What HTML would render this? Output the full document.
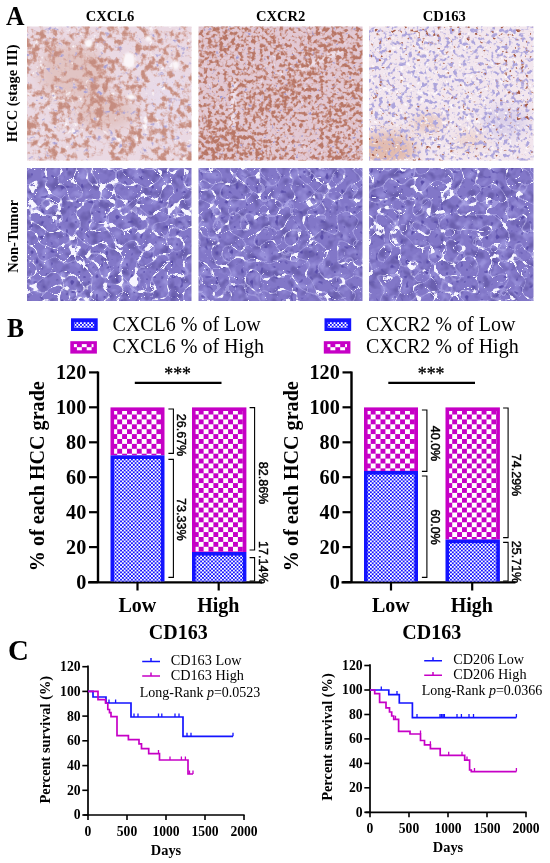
<!DOCTYPE html>
<html><head><meta charset="utf-8"><title>Figure</title>
<style>html,body{margin:0;padding:0;background:#fff}svg{display:block}text{font-family:"Liberation Serif","Times New Roman",serif;fill:#000}.b{font-weight:bold}.s{font-family:"Liberation Sans",Arial,sans-serif}</style></head><body>
<svg width="550" height="863" viewBox="0 0 550 863">
<defs>
<pattern id="cm" width="9.8" height="9.8" patternUnits="userSpaceOnUse"><rect width="9.8" height="9.8" fill="#fff"/><rect width="4.9" height="4.9" fill="#c600c6"/><rect x="4.9" y="4.9" width="4.9" height="4.9" fill="#c600c6"/></pattern>
<pattern id="cb" width="3.64" height="3.64" patternUnits="userSpaceOnUse" shape-rendering="crispEdges"><rect width="3.64" height="3.64" fill="#fff"/><rect width="1.94" height="1.94" fill="#1414ff"/><rect x="1.82" y="1.82" width="1.94" height="1.94" fill="#1414ff"/></pattern>
<filter id="h1" x="0" y="0" width="100%" height="100%" color-interpolation-filters="sRGB"><feTurbulence type="fractalNoise" baseFrequency="0.155" numOctaves="3" seed="3"/><feColorMatrix type="matrix" values="1 0 0 0 0  0 1 0 0 0  0 0 1 0 0  0 0 0 0 1" result="n"/><feTurbulence type="fractalNoise" baseFrequency="0.035" numOctaves="2" seed="10"/><feColorMatrix type="matrix" values="1 0 0 0 0  0 1 0 0 0  0 0 1 0 0  0 0 0 0 1" result="lo"/><feComposite in="n" in2="lo" operator="arithmetic" k1="0" k2="1" k3="0.4" k4="-0.2" result="m"/><feColorMatrix in="m" type="matrix" values="0 0 0 0 0.839  0 0 0 0 0.659  0 0 0 0 0.627  3.5 0 0 0 -1.505" result="br"/><feColorMatrix in="m" type="matrix" values="0 0 0 0 0.773  0 0 0 0 0.549  0 0 0 0 0.498  4 0 0 0 -2.080" result="br2"/><feColorMatrix in="n" type="matrix" values="0 0 0 0 0.667  0 0 0 0 0.635  0 0 0 0 0.839  0 6 0 0 -3.930" result="bl"/><feColorMatrix in="m" type="matrix" values="0 0 0 0 0.984  0 0 0 0 0.961  0 0 0 0 0.973  0 0 6 0 -4.080" result="wh"/><feMerge><feMergeNode in="wh"/><feMergeNode in="bl"/><feMergeNode in="br"/><feMergeNode in="br2"/></feMerge><feGaussianBlur stdDeviation="0.6"/></filter>
<filter id="h2" x="0" y="0" width="100%" height="100%" color-interpolation-filters="sRGB"><feTurbulence type="fractalNoise" baseFrequency="0.25" numOctaves="2" seed="11"/><feColorMatrix type="matrix" values="1 0 0 0 0  0 1 0 0 0  0 0 1 0 0  0 0 0 0 1" result="n"/><feTurbulence type="fractalNoise" baseFrequency="0.025" numOctaves="2" seed="18"/><feColorMatrix type="matrix" values="1 0 0 0 0  0 1 0 0 0  0 0 1 0 0  0 0 0 0 1" result="lo"/><feComposite in="n" in2="lo" operator="arithmetic" k1="0" k2="1" k3="0.3" k4="-0.15" result="m"/><feColorMatrix in="m" type="matrix" values="0 0 0 0 0.812  0 0 0 0 0.612  0 0 0 0 0.573  4 0 0 0 -1.680" result="br"/><feColorMatrix in="m" type="matrix" values="0 0 0 0 0.722  0 0 0 0 0.463  0 0 0 0 0.400  5 0 0 0 -2.500" result="br2"/><feColorMatrix in="n" type="matrix" values="0 0 0 0 0.635  0 0 0 0 0.604  0 0 0 0 0.824  0 7 0 0 -4.690" result="bl"/><feColorMatrix in="m" type="matrix" values="0 0 0 0 0.937  0 0 0 0 0.894  0 0 0 0 0.941  0 0 6 0 -4.200" result="wh"/><feMerge><feMergeNode in="wh"/><feMergeNode in="bl"/><feMergeNode in="br"/><feMergeNode in="br2"/></feMerge><feGaussianBlur stdDeviation="0.6"/></filter>
<filter id="h3" x="0" y="0" width="100%" height="100%" color-interpolation-filters="sRGB"><feTurbulence type="fractalNoise" baseFrequency="0.24" numOctaves="2" seed="23"/><feColorMatrix type="matrix" values="1 0 0 0 0  0 1 0 0 0  0 0 1 0 0  0 0 0 0 1" result="n"/><feTurbulence type="fractalNoise" baseFrequency="0.02" numOctaves="2" seed="30"/><feColorMatrix type="matrix" values="1 0 0 0 0  0 1 0 0 0  0 0 1 0 0  0 0 0 0 1" result="lo"/><feComposite in="n" in2="lo" operator="arithmetic" k1="0" k2="1" k3="0.25" k4="-0.125" result="m"/><feColorMatrix in="m" type="matrix" values="0 0 0 0 0.831  0 0 0 0 0.655  0 0 0 0 0.612  5 0 0 0 -3.300" result="br"/><feColorMatrix in="m" type="matrix" values="0 0 0 0 0.639  0 0 0 0 0.353  0 0 0 0 0.282  8 0 0 0 -5.680" result="br2"/><feColorMatrix in="n" type="matrix" values="0 0 0 0 0.675  0 0 0 0 0.643  0 0 0 0 0.863  0 6 0 0 -3.150" result="bl"/><feColorMatrix in="m" type="matrix" values="0 0 0 0 0.992  0 0 0 0 0.973  0 0 0 0 0.984  0 0 6 0 -3.720" result="wh"/><feMerge><feMergeNode in="wh"/><feMergeNode in="bl"/><feMergeNode in="br"/><feMergeNode in="br2"/></feMerge><feGaussianBlur stdDeviation="0.6"/></filter>
<filter id="n1" x="0" y="0" width="100%" height="100%" color-interpolation-filters="sRGB"><feTurbulence type="turbulence" baseFrequency="0.065" numOctaves="1" seed="5"/><feColorMatrix type="matrix" values="1 0 0 0 0  0 1 0 0 0  0 0 1 0 0  0 0 0 0 1" result="t"/><feTurbulence type="fractalNoise" baseFrequency="0.10" numOctaves="2" seed="10"/><feColorMatrix type="matrix" values="1 0 0 0 0  0 1 0 0 0  0 0 1 0 0  0 0 0 0 1" result="n"/><feTurbulence type="fractalNoise" baseFrequency="0.13" numOctaves="2" seed="14"/><feColorMatrix type="matrix" values="1 0 0 0 0  0 1 0 0 0  0 0 1 0 0  0 0 0 0 1" result="w"/><feTurbulence type="fractalNoise" baseFrequency="0.2" numOctaves="1" seed="18"/><feColorMatrix type="matrix" values="1 0 0 0 0  0 1 0 0 0  0 0 1 0 0  0 0 0 0 1" result="hf"/><feColorMatrix in="t" type="matrix" values="-5 0 0 0 1  0 0 0 0 0  0 0 0 0 0  0 0 0 0 1" result="ti"/><feComposite in="ti" in2="w" operator="arithmetic" k1="0" k2="0.5" k3="1.3" k4="-0.65" result="cw"/><feColorMatrix in="cw" type="matrix" values="0 0 0 0 0.965  0 0 0 0 0.961  0 0 0 0 1.000  9 0 0 0 -4.140" result="wb"/><feColorMatrix in="t" type="matrix" values="0 0 0 0 0.74  0 0 0 0 0.72  0 0 0 0 0.94  -8 0 0 0 0.5" result="cr"/><feColorMatrix in="n" type="matrix" values="0 0 0 0 0.416  0 0 0 0 0.373  0 0 0 0 0.682  0 4 0 0 -2.000" result="dk"/><feColorMatrix in="n" type="matrix" values="0 0 0 0 0.596  0 0 0 0 0.565  0 0 0 0 0.855  0 0 4 0 -2.080" result="lt"/><feColorMatrix in="hf" type="matrix" values="0 0 0 0 0.353  0 0 0 0 0.306  0 0 0 0 0.667  8 0 0 0 -5.120" result="nu"/><feFlood flood-color="#8277c8" result="bg"/><feMerge><feMergeNode in="bg"/><feMergeNode in="lt"/><feMergeNode in="dk"/><feMergeNode in="nu"/><feMergeNode in="cr"/><feMergeNode in="wb"/></feMerge><feGaussianBlur stdDeviation="0.75"/></filter>
<filter id="n2" x="0" y="0" width="100%" height="100%" color-interpolation-filters="sRGB"><feTurbulence type="turbulence" baseFrequency="0.065" numOctaves="1" seed="17"/><feColorMatrix type="matrix" values="1 0 0 0 0  0 1 0 0 0  0 0 1 0 0  0 0 0 0 1" result="t"/><feTurbulence type="fractalNoise" baseFrequency="0.10" numOctaves="2" seed="22"/><feColorMatrix type="matrix" values="1 0 0 0 0  0 1 0 0 0  0 0 1 0 0  0 0 0 0 1" result="n"/><feTurbulence type="fractalNoise" baseFrequency="0.13" numOctaves="2" seed="26"/><feColorMatrix type="matrix" values="1 0 0 0 0  0 1 0 0 0  0 0 1 0 0  0 0 0 0 1" result="w"/><feTurbulence type="fractalNoise" baseFrequency="0.2" numOctaves="1" seed="30"/><feColorMatrix type="matrix" values="1 0 0 0 0  0 1 0 0 0  0 0 1 0 0  0 0 0 0 1" result="hf"/><feColorMatrix in="t" type="matrix" values="-5 0 0 0 1  0 0 0 0 0  0 0 0 0 0  0 0 0 0 1" result="ti"/><feComposite in="ti" in2="w" operator="arithmetic" k1="0" k2="0.5" k3="1.3" k4="-0.65" result="cw"/><feColorMatrix in="cw" type="matrix" values="0 0 0 0 0.965  0 0 0 0 0.961  0 0 0 0 1.000  9 0 0 0 -4.770" result="wb"/><feColorMatrix in="t" type="matrix" values="0 0 0 0 0.74  0 0 0 0 0.72  0 0 0 0 0.94  -8 0 0 0 0.5" result="cr"/><feColorMatrix in="n" type="matrix" values="0 0 0 0 0.416  0 0 0 0 0.373  0 0 0 0 0.682  0 4 0 0 -2.000" result="dk"/><feColorMatrix in="n" type="matrix" values="0 0 0 0 0.596  0 0 0 0 0.565  0 0 0 0 0.855  0 0 4 0 -2.080" result="lt"/><feColorMatrix in="hf" type="matrix" values="0 0 0 0 0.353  0 0 0 0 0.306  0 0 0 0 0.667  8 0 0 0 -5.120" result="nu"/><feFlood flood-color="#8277c8" result="bg"/><feMerge><feMergeNode in="bg"/><feMergeNode in="lt"/><feMergeNode in="dk"/><feMergeNode in="nu"/><feMergeNode in="cr"/><feMergeNode in="wb"/></feMerge><feGaussianBlur stdDeviation="0.75"/></filter>
<filter id="n3" x="0" y="0" width="100%" height="100%" color-interpolation-filters="sRGB"><feTurbulence type="turbulence" baseFrequency="0.065" numOctaves="1" seed="31"/><feColorMatrix type="matrix" values="1 0 0 0 0  0 1 0 0 0  0 0 1 0 0  0 0 0 0 1" result="t"/><feTurbulence type="fractalNoise" baseFrequency="0.10" numOctaves="2" seed="36"/><feColorMatrix type="matrix" values="1 0 0 0 0  0 1 0 0 0  0 0 1 0 0  0 0 0 0 1" result="n"/><feTurbulence type="fractalNoise" baseFrequency="0.13" numOctaves="2" seed="40"/><feColorMatrix type="matrix" values="1 0 0 0 0  0 1 0 0 0  0 0 1 0 0  0 0 0 0 1" result="w"/><feTurbulence type="fractalNoise" baseFrequency="0.2" numOctaves="1" seed="44"/><feColorMatrix type="matrix" values="1 0 0 0 0  0 1 0 0 0  0 0 1 0 0  0 0 0 0 1" result="hf"/><feColorMatrix in="t" type="matrix" values="-5 0 0 0 1  0 0 0 0 0  0 0 0 0 0  0 0 0 0 1" result="ti"/><feComposite in="ti" in2="w" operator="arithmetic" k1="0" k2="0.5" k3="1.3" k4="-0.65" result="cw"/><feColorMatrix in="cw" type="matrix" values="0 0 0 0 0.965  0 0 0 0 0.961  0 0 0 0 1.000  9 0 0 0 -4.500" result="wb"/><feColorMatrix in="t" type="matrix" values="0 0 0 0 0.74  0 0 0 0 0.72  0 0 0 0 0.94  -8 0 0 0 0.5" result="cr"/><feColorMatrix in="n" type="matrix" values="0 0 0 0 0.416  0 0 0 0 0.373  0 0 0 0 0.682  0 4 0 0 -2.000" result="dk"/><feColorMatrix in="n" type="matrix" values="0 0 0 0 0.596  0 0 0 0 0.565  0 0 0 0 0.855  0 0 4 0 -2.080" result="lt"/><feColorMatrix in="hf" type="matrix" values="0 0 0 0 0.353  0 0 0 0 0.306  0 0 0 0 0.667  8 0 0 0 -5.120" result="nu"/><feFlood flood-color="#8277c8" result="bg"/><feMerge><feMergeNode in="bg"/><feMergeNode in="lt"/><feMergeNode in="dk"/><feMergeNode in="nu"/><feMergeNode in="cr"/><feMergeNode in="wb"/></feMerge><feGaussianBlur stdDeviation="0.75"/></filter>
<filter id="bl2" x="-30%" y="-30%" width="160%" height="160%"><feGaussianBlur stdDeviation="1.2"/></filter>
<filter id="bl6" x="-50%" y="-50%" width="200%" height="200%"><feGaussianBlur stdDeviation="6"/></filter>
<clipPath id="cp3"><rect x="369" y="26.5" width="164.5" height="134"/></clipPath>
<clipPath id="cp2"><rect x="198.5" y="26.5" width="164" height="134"/></clipPath>
<clipPath id="ch0"><rect x="27" y="26.5" width="164.5" height="134.0"/></clipPath>
<clipPath id="cn0"><rect x="27" y="168" width="164.5" height="133"/></clipPath>
<clipPath id="ch1"><rect x="198.5" y="26.5" width="164.0" height="134.0"/></clipPath>
<clipPath id="cn1"><rect x="198.5" y="168" width="164.0" height="133"/></clipPath>
<clipPath id="ch2"><rect x="369" y="26.5" width="164.5" height="134.0"/></clipPath>
<clipPath id="cn2"><rect x="369" y="168" width="164.5" height="133"/></clipPath>
</defs>
<rect width="550" height="863" fill="#fff"/>
<rect x="27" y="26.5" width="164.5" height="134.0" fill="#ead9e3"/>
<g clip-path="url(#ch0)"><g filter="url(#bl6)" fill-opacity="0.6"><ellipse cx="72" cy="72" rx="34" ry="28" fill="#dcb6ae"/><ellipse cx="105" cy="112" rx="30" ry="18" fill="#dcb6ae"/><ellipse cx="166" cy="105" rx="22" ry="34" fill="#e6dcee"/></g></g>
<g clip-path="url(#ch0)"><rect x="23" y="22.5" width="172.5" height="142.0" fill="#ddd" filter="url(#h1)"/></g>
<g filter="url(#bl2)" fill="#fbf6f9"><ellipse cx="88.5" cy="43.5" rx="4" ry="4.5"/><ellipse cx="129" cy="60.5" rx="6.5" ry="8"/><ellipse cx="148.5" cy="38.5" rx="3.2" ry="3"/><ellipse cx="175.5" cy="65" rx="3.5" ry="4.5"/><ellipse cx="131" cy="97" rx="4" ry="3"/></g>
<g clip-path="url(#cn0)"><rect x="23" y="164" width="172.5" height="141" fill="#88c" filter="url(#n1)"/></g>
<rect x="198.5" y="26.5" width="164.0" height="134.0" fill="#e2c8d3"/>
<g clip-path="url(#cp2)"><g filter="url(#bl2)" stroke="#f0e2ec" stroke-width="5" fill="none"><path d="M297 70L343 50"/><path d="M235 80L232 126"/></g></g>
<g clip-path="url(#ch1)"><rect x="194.5" y="22.5" width="172.0" height="142.0" fill="#ddd" filter="url(#h2)"/></g>
<g clip-path="url(#cn1)"><rect x="194.5" y="164" width="172.0" height="141" fill="#88c" filter="url(#n2)"/></g>
<rect x="369" y="26.5" width="164.5" height="134.0" fill="#f2e6ee"/>
<g clip-path="url(#cp3)"><g filter="url(#bl6)"><ellipse cx="386" cy="150" rx="30" ry="18" fill="#e2bcb0"/><ellipse cx="428" cy="123" rx="15" ry="7" fill="#e2bcb0"/><ellipse cx="470" cy="140" rx="14" ry="8" fill="#ecd2cc"/><ellipse cx="505" cy="122" rx="22" ry="16" fill="#dcd2ea"/></g></g>
<g clip-path="url(#ch2)"><rect x="365" y="22.5" width="172.5" height="142.0" fill="#ddd" filter="url(#h3)"/></g>
<g clip-path="url(#cn2)"><rect x="365" y="164" width="172.5" height="141" fill="#88c" filter="url(#n3)"/></g>
<text class="b" x="6" y="25.3" font-size="27.5" textLength="18.5" lengthAdjust="spacingAndGlyphs">A</text>
<text class="b" x="110" y="21.3" font-size="14.6" text-anchor="middle">CXCL6</text>
<text class="b" x="280.7" y="21.3" font-size="14.6" text-anchor="middle">CXCR2</text>
<text class="b" x="444.3" y="21.3" font-size="14.6" text-anchor="middle">CD163</text>
<text class="b" transform="translate(16.9,93.3) rotate(-90)" font-size="14.55" text-anchor="middle">HCC (stage III)</text>
<text class="b" transform="translate(18,236.3) rotate(-90)" font-size="14.5" text-anchor="middle">Non-Tumor</text>
<text class="b" x="7" y="337.2" font-size="27.5" textLength="17" lengthAdjust="spacingAndGlyphs">B</text>
<g transform="translate(0,0)">
<rect x="71" y="318.3" width="26.7" height="12.7" fill="#1414ff"/>
<rect x="74.2" y="322.2" width="20" height="5.8" fill="url(#cb)"/>
<rect x="70.3" y="341.2" width="26.6" height="12.4" fill="#c600c6"/>
<g transform="translate(67.1,342.3)"><rect x="6.8" y="1.8" width="19.6" height="6.2" fill="url(#cm)"/></g>
<text x="112.4" y="331" font-size="20">CXCL6 % of Low</text>
<text x="112.4" y="353" font-size="20">CXCL6 % of High</text>
<path d="M98 371.4V583.6M88 582.4H262" stroke="#000" stroke-width="2.4" fill="none"/>
<path d="M89 372.4H98" stroke="#000" stroke-width="2.2"/>
<text class="b" x="86.3" y="379.1" font-size="20.2" text-anchor="end">120</text>
<path d="M89 407.3H98" stroke="#000" stroke-width="2.2"/>
<text class="b" x="86.3" y="414.0" font-size="20.2" text-anchor="end">100</text>
<path d="M89 442.3H98" stroke="#000" stroke-width="2.2"/>
<text class="b" x="86.3" y="449.0" font-size="20.2" text-anchor="end">80</text>
<path d="M89 477.2H98" stroke="#000" stroke-width="2.2"/>
<text class="b" x="86.3" y="483.9" font-size="20.2" text-anchor="end">60</text>
<path d="M89 512.2H98" stroke="#000" stroke-width="2.2"/>
<text class="b" x="86.3" y="518.9" font-size="20.2" text-anchor="end">40</text>
<path d="M89 547.1H98" stroke="#000" stroke-width="2.2"/>
<text class="b" x="86.3" y="553.9" font-size="20.2" text-anchor="end">20</text>
<path d="M89 582.1H98" stroke="#000" stroke-width="2.2"/>
<text class="b" x="86.3" y="588.8" font-size="20.2" text-anchor="end">0</text>
<path d="M137.5 582V590.5" stroke="#000" stroke-width="2.2"/>
<path d="M218.7 582V590.5" stroke="#000" stroke-width="2.2"/>
<text class="b" transform="translate(44,476.2) rotate(-90)" font-size="20.5" text-anchor="middle" textLength="190" lengthAdjust="spacingAndGlyphs">% of each HCC grade</text>
<rect x="110.5" y="407.4" width="54.0" height="48.0" fill="#c600c6"/>
<g transform="translate(107.40,409.60)"><rect x="6.70" y="1.40" width="46.80" height="44.1" fill="url(#cm)"/></g>
<rect x="110.5" y="455.4" width="54.0" height="126.0" fill="#1414ff"/>
<rect x="114.1" y="459.0" width="46.8" height="122.4" fill="url(#cb)"/>
<rect x="192" y="407.4" width="54.400000000000006" height="144.60000000000002" fill="#c600c6"/>
<g transform="translate(188.90,409.60)"><rect x="6.70" y="1.40" width="47.20" height="140.7" fill="url(#cm)"/></g>
<rect x="192" y="552" width="54.400000000000006" height="29.399999999999977" fill="#1414ff"/>
<rect x="195.6" y="555.6" width="47.2" height="25.8" fill="url(#cb)"/>
<path d="M168.4 409h5V453.4h-5" stroke="#000" stroke-width="1.1" fill="none"/>
<path d="M168.4 459.4h5V577.4h-5" stroke="#000" stroke-width="1.1" fill="none"/>
<path d="M249.6 407.6h5V550h-5" stroke="#000" stroke-width="1.1" fill="none"/>
<path d="M249.6 557.6h5V581h-5" stroke="#000" stroke-width="1.1" fill="none"/>
<text class="s" transform="translate(177.2,435.0) rotate(90)" font-size="12.5" text-anchor="middle" stroke="#000" stroke-width="0.45">26.67%</text>
<text class="s" transform="translate(177.2,519.3) rotate(90)" font-size="12.5" text-anchor="middle" stroke="#000" stroke-width="0.45">73.33%</text>
<text class="s" transform="translate(258.7,483.0) rotate(90)" font-size="12.5" text-anchor="middle" stroke="#000" stroke-width="0.45">82.86%</text>
<text class="s" transform="translate(258.7,562.3) rotate(90)" font-size="12.5" text-anchor="middle" stroke="#000" stroke-width="0.45">17.14%</text>
<path d="M134.8 382.8H221.5" stroke="#000" stroke-width="2.2"/>
<text x="177.6" y="379.5" font-size="17.8" text-anchor="middle" stroke="#000" stroke-width="0.3">***</text>
<text class="b" x="137.3" y="611.5" font-size="20" text-anchor="middle">Low</text>
<text class="b" x="218.3" y="611.5" font-size="20" text-anchor="middle">High</text>
<text class="b" x="178.2" y="639.3" font-size="20" text-anchor="middle">CD163</text>
</g>
<g transform="translate(253.5,0)">
<rect x="71" y="318.3" width="26.7" height="12.7" fill="#1414ff"/>
<rect x="74.2" y="322.2" width="20" height="5.8" fill="url(#cb)"/>
<rect x="70.3" y="341.2" width="26.6" height="12.4" fill="#c600c6"/>
<g transform="translate(67.1,342.3)"><rect x="6.8" y="1.8" width="19.6" height="6.2" fill="url(#cm)"/></g>
<text x="112.4" y="331" font-size="20">CXCR2 % of Low</text>
<text x="112.4" y="353" font-size="20">CXCR2 % of High</text>
<path d="M98 371.4V583.6M88 582.4H262" stroke="#000" stroke-width="2.4" fill="none"/>
<path d="M89 372.4H98" stroke="#000" stroke-width="2.2"/>
<text class="b" x="86.3" y="379.1" font-size="20.2" text-anchor="end">120</text>
<path d="M89 407.3H98" stroke="#000" stroke-width="2.2"/>
<text class="b" x="86.3" y="414.0" font-size="20.2" text-anchor="end">100</text>
<path d="M89 442.3H98" stroke="#000" stroke-width="2.2"/>
<text class="b" x="86.3" y="449.0" font-size="20.2" text-anchor="end">80</text>
<path d="M89 477.2H98" stroke="#000" stroke-width="2.2"/>
<text class="b" x="86.3" y="483.9" font-size="20.2" text-anchor="end">60</text>
<path d="M89 512.2H98" stroke="#000" stroke-width="2.2"/>
<text class="b" x="86.3" y="518.9" font-size="20.2" text-anchor="end">40</text>
<path d="M89 547.1H98" stroke="#000" stroke-width="2.2"/>
<text class="b" x="86.3" y="553.9" font-size="20.2" text-anchor="end">20</text>
<path d="M89 582.1H98" stroke="#000" stroke-width="2.2"/>
<text class="b" x="86.3" y="588.8" font-size="20.2" text-anchor="end">0</text>
<path d="M137.5 582V590.5" stroke="#000" stroke-width="2.2"/>
<path d="M218.7 582V590.5" stroke="#000" stroke-width="2.2"/>
<text class="b" transform="translate(44,476.2) rotate(-90)" font-size="20.5" text-anchor="middle" textLength="190" lengthAdjust="spacingAndGlyphs">% of each HCC grade</text>
<rect x="110.5" y="407.4" width="54.0" height="63.60000000000002" fill="#c600c6"/>
<g transform="translate(107.40,409.60)"><rect x="6.70" y="1.40" width="46.80" height="59.7" fill="url(#cm)"/></g>
<rect x="110.5" y="471" width="54.0" height="110.39999999999998" fill="#1414ff"/>
<rect x="114.1" y="474.6" width="46.8" height="106.8" fill="url(#cb)"/>
<rect x="192" y="407.4" width="54.400000000000006" height="132.20000000000005" fill="#c600c6"/>
<g transform="translate(188.90,409.60)"><rect x="6.70" y="1.40" width="47.20" height="128.3" fill="url(#cm)"/></g>
<rect x="192" y="539.6" width="54.400000000000006" height="41.799999999999955" fill="#1414ff"/>
<rect x="195.6" y="543.2" width="47.2" height="38.2" fill="url(#cb)"/>
<path d="M168.4 410h5V471.4h-5" stroke="#000" stroke-width="1.1" fill="none"/>
<path d="M168.4 476h5V577.4h-5" stroke="#000" stroke-width="1.1" fill="none"/>
<path d="M249.6 408h5V537.6h-5" stroke="#000" stroke-width="1.1" fill="none"/>
<path d="M249.6 542.4h5V581h-5" stroke="#000" stroke-width="1.1" fill="none"/>
<text class="s" transform="translate(177.2,443.5) rotate(90)" font-size="12.5" text-anchor="middle" stroke="#000" stroke-width="0.45">40.0%</text>
<text class="s" transform="translate(177.2,527.0) rotate(90)" font-size="12.5" text-anchor="middle" stroke="#000" stroke-width="0.45">60.0%</text>
<text class="s" transform="translate(258.7,475.0) rotate(90)" font-size="12.5" text-anchor="middle" stroke="#000" stroke-width="0.45">74.29%</text>
<text class="s" transform="translate(258.7,562.0) rotate(90)" font-size="12.5" text-anchor="middle" stroke="#000" stroke-width="0.45">25.71%</text>
<path d="M134.8 382.8H221.5" stroke="#000" stroke-width="2.2"/>
<text x="177.6" y="379.5" font-size="17.8" text-anchor="middle" stroke="#000" stroke-width="0.3">***</text>
<text class="b" x="137.3" y="611.5" font-size="20" text-anchor="middle">Low</text>
<text class="b" x="218.3" y="611.5" font-size="20" text-anchor="middle">High</text>
<text class="b" x="178.2" y="639.3" font-size="20" text-anchor="middle">CD163</text>
</g>
<text class="b" x="7.9" y="659.6" font-size="28.6" textLength="20.8" lengthAdjust="spacingAndGlyphs">C</text>
<g transform="translate(0,0)">
<path d="M88 665.6V815.8M83.5 815.0H244.6" stroke="#000" stroke-width="1.7" fill="none"/>
<path d="M82.3 815.0H88" stroke="#000" stroke-width="1.6"/>
<text class="b" x="80.6" y="819.4" font-size="13.7" text-anchor="end">0</text>
<path d="M82.3 790.3H88" stroke="#000" stroke-width="1.6"/>
<text class="b" x="80.6" y="794.7" font-size="13.7" text-anchor="end">20</text>
<path d="M82.3 765.6H88" stroke="#000" stroke-width="1.6"/>
<text class="b" x="80.6" y="770.0" font-size="13.7" text-anchor="end">40</text>
<path d="M82.3 740.8H88" stroke="#000" stroke-width="1.6"/>
<text class="b" x="80.6" y="745.2" font-size="13.7" text-anchor="end">60</text>
<path d="M82.3 716.1H88" stroke="#000" stroke-width="1.6"/>
<text class="b" x="80.6" y="720.5" font-size="13.7" text-anchor="end">80</text>
<path d="M82.3 691.4H88" stroke="#000" stroke-width="1.6"/>
<text class="b" x="80.6" y="695.8" font-size="13.7" text-anchor="end">100</text>
<path d="M82.3 666.7H88" stroke="#000" stroke-width="1.6"/>
<text class="b" x="80.6" y="671.1" font-size="13.7" text-anchor="end">120</text>
<path d="M88.0 815.0V820.0" stroke="#000" stroke-width="1.6"/>
<text class="b" x="88.0" y="835.5" font-size="13.6" text-anchor="middle">0</text>
<path d="M127.0 815.0V820.0" stroke="#000" stroke-width="1.6"/>
<text class="b" x="127.0" y="835.5" font-size="13.6" text-anchor="middle">500</text>
<path d="M166.0 815.0V820.0" stroke="#000" stroke-width="1.6"/>
<text class="b" x="166.0" y="835.5" font-size="13.6" text-anchor="middle">1000</text>
<path d="M205.0 815.0V820.0" stroke="#000" stroke-width="1.6"/>
<text class="b" x="205.0" y="835.5" font-size="13.6" text-anchor="middle">1500</text>
<path d="M244.0 815.0V820.0" stroke="#000" stroke-width="1.6"/>
<text class="b" x="244.0" y="835.5" font-size="13.6" text-anchor="middle">2000</text>
<text class="b" x="166" y="855.0" font-size="14.4" text-anchor="middle">Days</text>
<text class="b" transform="translate(50,739.7) rotate(-90)" font-size="14.4" text-anchor="middle">Percent survival (%)</text>
<path d="M88 691.4H93V697H106V703H131V717H183V736.3H233V736.3" stroke="#1414ff" stroke-width="1.7" fill="none"/>
<path d="M88 691.4H98V699.6H105.5V703H107.8V709.5H109.5V712.7H111V716.6H117V735.6H128.4V739.6H139V743.8H141.5V748.7H148.7V753.6H159.5V760H188V774H193V774" stroke="#c600c6" stroke-width="1.7" fill="none"/>
<path d="M109 703v-3.6M115.6 703v-3.6M134 717v-3.6M138 717v-3.6M158.5 717v-3.6M161.8 717v-3.6M175 717v-3.6M179 717v-3.6M187 736.3v-3.6M191 736.3v-3.6M233 736.3v-3.6" stroke="#1414ff" stroke-width="1.3" fill="none"/>
<path d="M158.5 753.6v-3.6M170 760v-3.6M181.4 760v-3.6M185.4 760v-3.6M189.5 774v-3.6M193 774v-3.6" stroke="#c600c6" stroke-width="1.3" fill="none"/>
<path d="M142.2 661.5H160M151 661.5v-3.4" stroke="#1414ff" stroke-width="1.5" fill="none"/>
<path d="M142.2 676H160M151 676v-3.4" stroke="#c600c6" stroke-width="1.5" fill="none"/>
<text x="170.7" y="664.8" font-size="14.25">CD163 Low</text>
<text x="170.7" y="679.6" font-size="14.25">CD163 High</text>
<text x="139.7" y="697" font-size="14">Long-Rank <tspan font-style="italic">p</tspan>=0.0523</text>
</g>
<g transform="translate(282,-1.4)">
<path d="M88 665.6V814.5M83.5 813.7H244.6" stroke="#000" stroke-width="1.7" fill="none"/>
<path d="M82.3 813.7H88" stroke="#000" stroke-width="1.6"/>
<text class="b" x="80.6" y="818.1" font-size="13.7" text-anchor="end">0</text>
<path d="M82.3 789.2H88" stroke="#000" stroke-width="1.6"/>
<text class="b" x="80.6" y="793.6" font-size="13.7" text-anchor="end">20</text>
<path d="M82.3 764.8H88" stroke="#000" stroke-width="1.6"/>
<text class="b" x="80.6" y="769.2" font-size="13.7" text-anchor="end">40</text>
<path d="M82.3 740.3H88" stroke="#000" stroke-width="1.6"/>
<text class="b" x="80.6" y="744.7" font-size="13.7" text-anchor="end">60</text>
<path d="M82.3 715.9H88" stroke="#000" stroke-width="1.6"/>
<text class="b" x="80.6" y="720.3" font-size="13.7" text-anchor="end">80</text>
<path d="M82.3 691.4H88" stroke="#000" stroke-width="1.6"/>
<text class="b" x="80.6" y="695.8" font-size="13.7" text-anchor="end">100</text>
<path d="M82.3 666.9H88" stroke="#000" stroke-width="1.6"/>
<text class="b" x="80.6" y="671.3" font-size="13.7" text-anchor="end">120</text>
<path d="M88.0 813.7V818.7" stroke="#000" stroke-width="1.6"/>
<text class="b" x="88.0" y="834.2" font-size="13.6" text-anchor="middle">0</text>
<path d="M127.0 813.7V818.7" stroke="#000" stroke-width="1.6"/>
<text class="b" x="127.0" y="834.2" font-size="13.6" text-anchor="middle">500</text>
<path d="M166.0 813.7V818.7" stroke="#000" stroke-width="1.6"/>
<text class="b" x="166.0" y="834.2" font-size="13.6" text-anchor="middle">1000</text>
<path d="M205.0 813.7V818.7" stroke="#000" stroke-width="1.6"/>
<text class="b" x="205.0" y="834.2" font-size="13.6" text-anchor="middle">1500</text>
<path d="M244.0 813.7V818.7" stroke="#000" stroke-width="1.6"/>
<text class="b" x="244.0" y="834.2" font-size="13.6" text-anchor="middle">2000</text>
<text class="b" x="166" y="853.7" font-size="14.4" text-anchor="middle">Days</text>
<text class="b" transform="translate(50,738.4000000000001) rotate(-90)" font-size="14.4" text-anchor="middle">Percent survival (%)</text>
<path d="M88 691.4H106.8V696.1H117.3V704.4H130.4V719.0H234.4V719.0" stroke="#1414ff" stroke-width="1.7" fill="none"/>
<path d="M88 691.4H92.7V695.1H97.6V703.7H104V709.2H107.5V713.4H109.7V717.4H111.7V720.7H116.6V732.8H128V735.4H138.5V741.9H142.5V746.2H148.4V750.1H158.2V756.7H182.7V761.6H187.6V771.4H189.3V773.0H234.4V773.0" stroke="#c600c6" stroke-width="1.7" fill="none"/>
<path d="M99.3 691.4v-3.6M115 696.1v-3.6M135 719.0v-3.6M158 719.0v-3.6M159.5 719.0v-3.6M161 719.0v-3.6M162.4 719.0v-3.6M175 719.0v-3.6M179.4 719.0v-3.6M187 719.0v-3.6M191.5 719.0v-3.6M234.4 719.0v-3.6" stroke="#1414ff" stroke-width="1.3" fill="none"/>
<path d="M113.5 720.7v-3.6M138.5 735.4v-3.6M148.4 746.2v-3.6M166.7 756.7v-3.6M180 756.7v-3.6M185 761.6v-3.6M192.5 773.0v-3.6M234.4 773.0v-3.6" stroke="#c600c6" stroke-width="1.3" fill="none"/>
<path d="M142.2 662.1H160M151 662.1v-3.4" stroke="#1414ff" stroke-width="1.5" fill="none"/>
<path d="M142.2 676.7H160M151 676.7v-3.4" stroke="#c600c6" stroke-width="1.5" fill="none"/>
<text x="171.29999999999998" y="665.4" font-size="14.25">CD206 Low</text>
<text x="171.29999999999998" y="680.3000000000001" font-size="14.25">CD206 High</text>
<text x="139.7" y="696" font-size="14">Long-Rank <tspan font-style="italic">p</tspan>=0.0366</text>
</g>
</svg></body></html>
